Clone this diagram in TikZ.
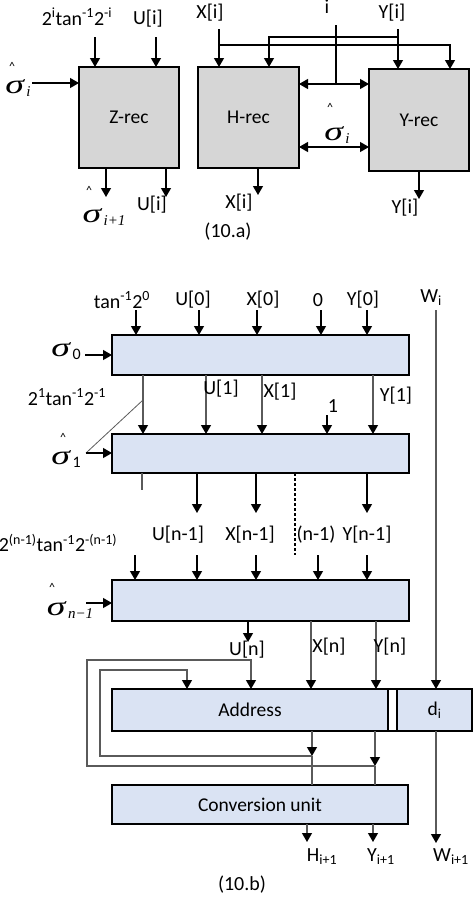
\documentclass[tikz,border=0pt]{standalone}
\usepackage{fontspec}
\setmainfont{Carlito}
\newfontfamily\sigfont{Liberation Serif}
\usetikzlibrary{arrows.meta}
\definecolor{gfill}{HTML}{D6D6D6}
\definecolor{bfill}{HTML}{DAE3F3}
\definecolor{lgray}{HTML}{5A5A5A}
\newcommand{\sigmasym}{\scalebox{1.4}[1]{\fontsize{27}{27}\selectfont\sigfont\itshape σ}}
\newcommand{\sigsub}[1]{\raisebox{-3pt}{\fontsize{15}{15}\selectfont\sigfont\itshape\,#1}}
\newcommand{\sigsubr}[1]{\raisebox{-3pt}{\fontsize{16}{16}\selectfont\,#1}}
\newcommand{\hatmark}{{\fontsize{12}{12}\selectfont\textasciicircum}}
\begin{document}
\begin{tikzpicture}[x=1pt,y=-1pt,
  every node/.style={inner sep=0pt,outer sep=0pt},
  lab/.style={font=\fontsize{20}{22}\selectfont},
  title/.style={font=\fontsize{19.5}{22}\selectfont},
  gbox/.style={draw=black,line width=2.2pt,fill=gfill,title},
  bbox/.style={draw=black,line width=2.2pt,fill=bfill,title},
  arr/.style={line width=1.2pt,-{Triangle[width=10pt,length=9pt]}},
  darr/.style={line width=1.2pt,{Triangle[width=10pt,length=9pt]}-{Triangle[width=10pt,length=9pt]}},
  ln/.style={line width=1.2pt},
  garr/.style={line width=1.2pt,draw=lgray,-{Triangle[width=10pt,length=9pt,color=black]}},
  gln/.style={line width=1.2pt,draw=lgray}]
\useasboundingbox (0,0) rectangle (474,897);
% ---------- (10.a) ----------
\node[gbox,minimum width=100pt,minimum height=101pt] (zrec) at (129,117.5) {Z-rec};
\node[gbox,minimum width=101pt,minimum height=101pt] (hrec) at (248.5,117.5) {H-rec};
\node[gbox,minimum width=100pt,minimum height=102pt] (yrec) at (419,120) {Y-rec};

\node[lab] (lzi) at (77,17) {2\textsuperscript{i}tan\textsuperscript{-1}2\textsuperscript{-i}};
\coordinate (zin1) at (95,37);
\draw[arr] (zin1) -- (zin1 |- zrec.north);
\node[lab] (lui) at (148,19) {U[i]};
\coordinate (zin2) at (156,37);
\draw[arr] (zin2) -- (zin2 |- zrec.north);
\node (hsi) at (12,66) {\hatmark};
\node (si) at (18,88) {\sigmasym\sigsub{i}};
\coordinate (zin3) at (32,83);
\draw[arr] (zin3) -- (zin3 -| zrec.west);
\coordinate (zo1) at (106,197);
\draw[arr] (zo1 |- zrec.south) -- (zo1);
\node (hsi1) at (89,190) {\hatmark};
\node (si1) at (104,217) {\sigmasym\sigsub{i+1}};
\coordinate (zo2) at (166,197);
\draw[arr] (zo2 |- zrec.south) -- (zo2);
\node[lab] (luo) at (152,205) {U[i]};

\node[lab] (lxi) at (210,13) {X[i]};
\coordinate (xi) at (219,29);
\draw[arr] (xi) -- (xi |- hrec.north);
\coordinate (xj) at (219,45);
\coordinate (xk) at (450,45);
\draw[arr] (xj) -- (xk) -- (xk |- yrec.north);
\node[lab] (lyi) at (392,13) {Y[i]};
\coordinate (yi) at (398,29);
\draw[arr] (yi) -- (yi |- yrec.north);
\coordinate (yj) at (398,37);
\coordinate (yk) at (269,37);
\draw[arr] (yj) -- (yk) -- (yk |- hrec.north);
\node[lab] (li) at (327,7) {i};
\coordinate (it) at (336,25);
\coordinate (ib) at (336,84);
\draw[ln] (it) -- (ib);
\draw[darr] (ib -| hrec.east) -- (ib -| yrec.west);
\node (hs) at (330,107) {\hatmark};
\node (s) at (337,135) {\sigmasym\sigsub{i}};
\coordinate (sy) at (334,147);
\draw[darr] (sy -| hrec.east) -- (sy -| yrec.west);
\coordinate (ho) at (258,195);
\draw[arr] (ho |- hrec.south) -- (ho);
\node[lab] (lxo) at (239,203) {X[i]};
\coordinate (yo) at (419,199);
\draw[arr] (yo |- yrec.south) -- (yo);
\node[lab] (lyo) at (405,208) {Y[i]};
\node[lab] (capa) at (228,232) {(10.a)};

% ---------- (10.b) ----------
\node[bbox,minimum width=297pt,minimum height=40pt] (b1) at (260.5,355) {};
\node[bbox,minimum width=297pt,minimum height=39pt] (b2) at (260.5,453.5) {};
\node[bbox,minimum width=297pt,minimum height=41pt] (b3) at (260.5,600.5) {};
\node[bbox,minimum width=276pt,minimum height=42pt] (addr) at (250,710) {Address};
\node[draw=black,line width=2.2pt,fill=white,minimum width=9pt,minimum height=42pt] (gap) at (392.5,710) {};
\node[bbox,minimum width=75pt,minimum height=42pt] (di) at (434.5,710) {d\textsubscript{i}};
\node[bbox,minimum width=296pt,minimum height=39pt] (conv) at (260,804.5) {Conversion unit};

% inputs of box 1
\node[lab] (l10) at (122,300) {tan\textsuperscript{-1}2\textsuperscript{0}};
\node[lab] (l11) at (193,300) {U[0]};
\node[lab] (l12) at (263,300) {X[0]};
\node[lab] (l13) at (318,300) {0};
\node[lab] (l14) at (363,300) {Y[0]};
\node[lab] (l15) at (431,298) {W\textsubscript{i}};
\foreach \x/\n in {136/a,199/b,257/c,321/d,367/e}{
  \coordinate (i1\n) at (\x,310);
  \draw[arr] (i1\n) -- (i1\n |- b1.north);
}
\coordinate (wt) at (436,310);
\draw[garr] (wt) -- (wt |- di.north);
\node (s0) at (66,351) {\sigmasym\sigsubr{0}};
\coordinate (s0a) at (85,355);
\draw[arr] (s0a) -- (s0a -| b1.west);

% box 1 -> box 2
\foreach \x/\n in {143/a,206/b,262/c,373/d}{
  \coordinate (o1\n) at (\x,380);
  \draw[garr] (o1\n |- b1.south) -- (o1\n |- b2.north);
}
\node[lab] (lu1) at (221,389) {U[1]};
\node[lab] (lx1) at (280,392) {X[1]};
\node[lab] (ly1) at (396,396) {Y[1]};
\node[lab] (lone) at (333,406) {1};
\coordinate (one) at (327,415);
\draw[arr] (one) -- (one |- b2.north);
\node[lab] (l2t) at (67,397) {2\textsuperscript{1}tan\textsuperscript{-1}2\textsuperscript{-1}};
\coordinate (dg1) at (143,400);
\coordinate (dg2) at (86,453);
\draw[ln,draw=lgray,line width=0.8pt] (dg1) -- (dg2);
\draw[arr] (dg2) -- (dg2 -| b2.west);
\node (hs1) at (63,437) {\hatmark};
\node (s1) at (66,459) {\sigmasym\sigsubr{1}};

% box 2 -> box 3
\coordinate (tk) at (142,490);
\draw[gln] (tk |- b2.south) -- (tk);
\foreach \x/\n in {197/a,256/b,367/c}{
  \coordinate (o2\n) at (\x,513);
  \draw[arr] (o2\n |- b2.south) -- (o2\n);
}
\coordinate (dsh) at (295,555);
\draw[line width=1.2pt,dash pattern=on 3pt off 2pt] (dsh |- b2.south) -- (dsh);
\node[lab] (lun1) at (178,535) {U[n-1]};
\node[lab] (lxn1) at (250,535) {X[n-1]};
\node[lab] (lnn1) at (316,535) {(n-1)};
\node[lab] (lyn1) at (367,535) {Y[n-1]};
\node[lab] (l2n) at (58,543) {2\textsuperscript{(n-1)}tan\textsuperscript{-1}2\textsuperscript{-(n-1)}};
\foreach \x/\n in {135/a,197/b,256/c,318/d,367/e}{
  \coordinate (i3\n) at (\x,555);
  \draw[arr] (i3\n) -- (i3\n |- b3.north);
}
\node (hsn) at (52,587) {\hatmark};
\node (sn) at (70,610) {\sigmasym\sigsub{n−1}};
\coordinate (sna) at (86,603);
\draw[arr] (sna) -- (sna -| b3.west);

% box 3 -> address
\coordinate (un) at (248,642);
\draw[arr] (un |- b3.south) -- (un);
\node[lab] (lun) at (247,650) {U[n]};
\coordinate (xn) at (311,650);
\draw[garr] (xn |- b3.south) -- (xn |- addr.north);
\node[lab] (lxn) at (329,647) {X[n]};
\coordinate (yn) at (376,650);
\draw[garr] (yn |- b3.south) -- (yn |- addr.north);
\node[lab] (lyn) at (390,647) {Y[n]};

% address -> conversion, with feedback loops
\coordinate (ja) at (312,756);
\coordinate (jb) at (375,766);
\draw[garr] (ja |- addr.south) -- (ja);
\draw[gln] (ja) -- (ja |- conv.north);
\draw[garr] (jb |- addr.south) -- (jb);
\draw[gln] (jb) -- (jb |- conv.north);
\coordinate (la1) at (100,756);
\coordinate (la2) at (100,670);
\coordinate (la3) at (187,670);
\draw[garr] (ja) -- (la1) -- (la2) -- (la3) -- (la3 |- addr.north);
\coordinate (lb1) at (87,766);
\coordinate (lb2) at (87,660);
\coordinate (lb3) at (251,660);
\draw[garr] (jb) -- (lb1) -- (lb2) -- (lb3) -- (lb3 |- addr.north);

% outputs
\coordinate (wo) at (436,843);
\draw[garr] (wo |- di.south) -- (wo);
\node[lab] (lwo) at (451,857) {W\textsubscript{i+1}};
\coordinate (hoo) at (307,842);
\draw[garr] (hoo |- conv.south) -- (hoo);
\node[lab] (lho) at (322,857) {H\textsubscript{i+1}};
\coordinate (yoo) at (373,842);
\draw[garr] (yoo |- conv.south) -- (yoo);
\node[lab] (lyoo) at (381,857) {Y\textsubscript{i+1}};
\node[lab] (capb) at (242,885) {(10.b)};
\end{tikzpicture}
\end{document}
